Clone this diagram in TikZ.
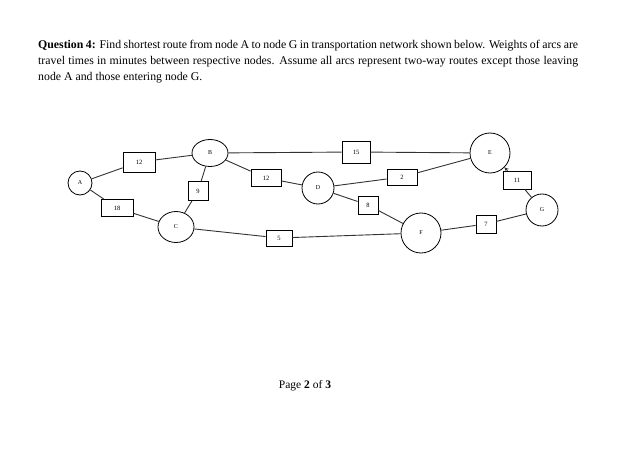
\documentclass[tikz,border=0pt]{standalone}
\usepackage{fontspec}
\usetikzlibrary{shapes.geometric}
\setmainfont{Liberation Serif}
\begin{document}
\begin{tikzpicture}[x=1pt,y=-1pt,
  nd/.style={draw,ellipse,line width=0.8pt,minimum width=#1,minimum height=#1,inner sep=0pt,font=\fontsize{6}{7}\selectfont},
  bx/.style={draw,rectangle,line width=0.8pt,minimum height=17,inner sep=1pt,font=\fontsize{6.5}{7}\selectfont,fill=white},
  ln/.style={line width=0.9pt,gray!40!black}]
\useasboundingbox (0,0) rectangle (633,452);
\node[anchor=north west,text width=540pt,align=justify,font=\fontsize{11.8}{16}\selectfont,inner sep=0pt] (q) at (38,40)
 {\textbf{Question 4:} Find shortest route from node A to node G in transportation network shown below. Weights of arcs are travel times in minutes between respective nodes. Assume all arcs represent two-way routes except those leaving node A and those entering node G.};
\node[nd=24] (A) at (80,183) {A};
\node[nd=36,minimum height=27] (B) at (210,153) {B};
\node[nd=36,minimum height=31] (C) at (176,227) {C};
\node[nd=32] (D) at (318,188) {D};
\node[nd=40] (E) at (490,153) {E};
\node[nd=40] (F) at (421,233) {F};
\node[nd=32] (G) at (542,210) {G};
\node[bx,minimum width=32,minimum height=20] (b1) at (139,162) {12};
\node[bx,minimum width=32] (b2) at (117,208) {18};
\node[bx,minimum width=20,minimum height=19] (b3) at (198,191) {9};
\node[bx,minimum width=30] (b4) at (266,178) {12};
\node[bx,minimum width=26,minimum height=16] (b5) at (279,238) {5};
\node[bx,minimum width=28,minimum height=22] (b6) at (356,152) {15};
\node[bx,minimum width=30,minimum height=16] (b7) at (402,177) {2};
\node[bx,minimum width=20,minimum height=18] (b8) at (368,205) {8};
\node[bx,minimum width=28,minimum height=18] (b9) at (517,180) {11};
\node[bx,minimum width=20,minimum height=18] (b10) at (486,224) {7};
\begin{scope}[ln]
\draw (A) -- (b1); \draw (b1) -- (B);
\draw (A) -- (b2); \draw (b2) -- (C);
\draw (B) -- (b3); \draw (b3) -- (C);
\draw (B) -- (b4); \draw (b4) -- (D);
\draw (B) -- (b6); \draw (b6) -- (E);
\draw (C) -- (b5); \draw (b5) -- (F);
\draw (D) -- (b7); \draw (b7) -- (E);
\draw (D) -- (b8); \draw (b8) -- (F);
\draw (F) -- (b10); \draw (b10) -- (G);
\draw (G) -- (b9); \draw[->,>=stealth] (b9) -- (E);
\end{scope}
\node[font=\fontsize{11.5}{13}\selectfont] (p) at (305,386) {Page \textbf{2} of \textbf{3}};
\end{tikzpicture}
\end{document}
